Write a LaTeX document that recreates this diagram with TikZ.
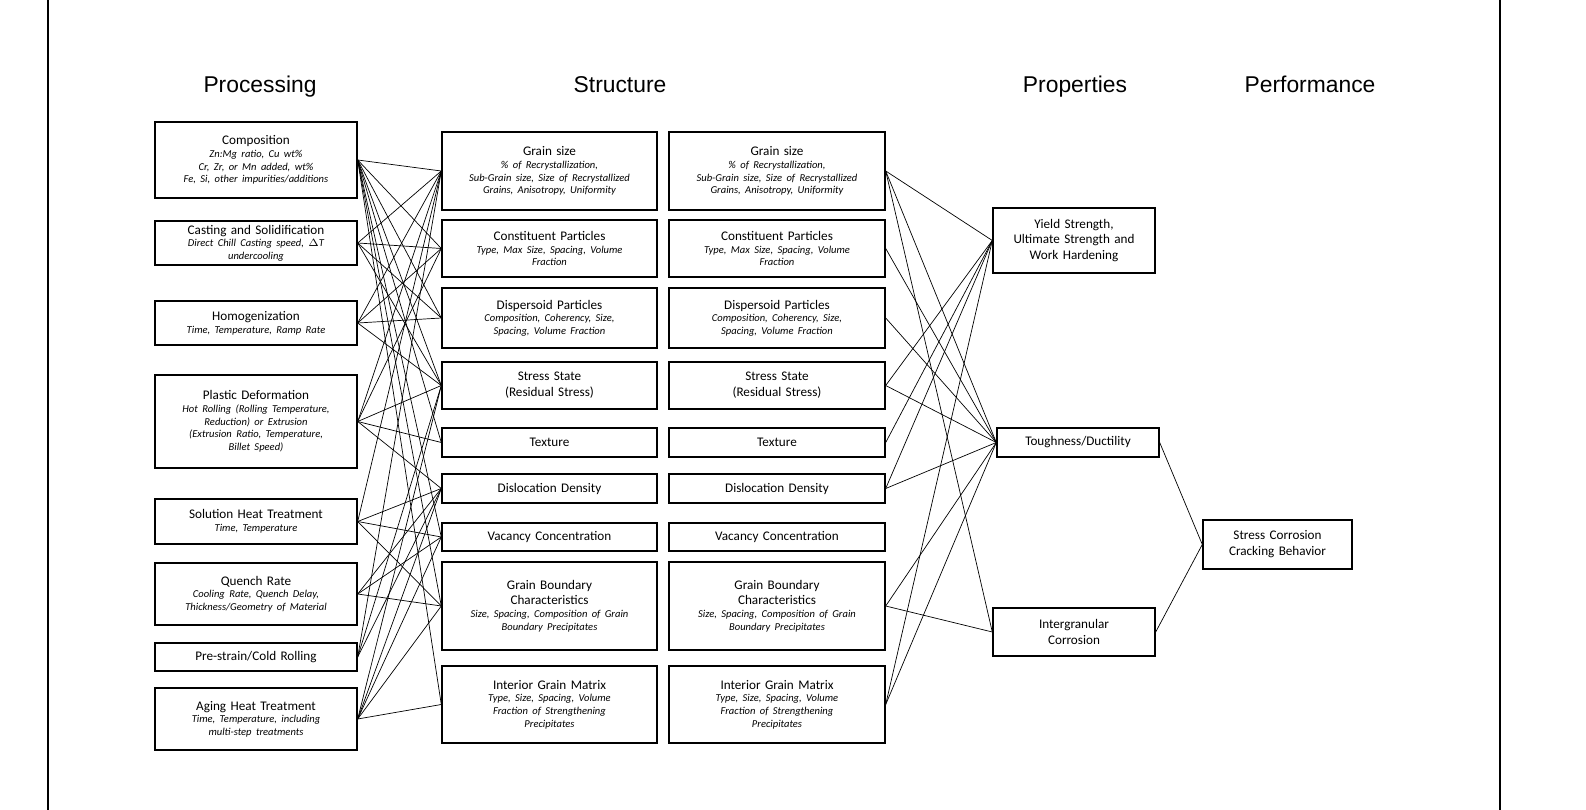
\documentclass[tikz,border=0pt]{standalone}
\usepackage{fontspec}
\setmainfont{Carlito}
\newfontfamily\headfont{Liberation Sans}
\usetikzlibrary{positioning}
\tikzset{
  box/.style={draw,thick,align=center,inner sep=1pt,font=\fontsize{7.5}{9}\selectfont},
  head/.style={font=\headfont\fontsize{13}{15}\selectfont,anchor=base},
  link/.style={thin}
}
% box from pixel corners: name, x1, y1, x2, y2, text
\newcommand{\pbox}[6]{%
  \node[box,minimum width={(#4-#2)*0.02cm},minimum height={(#5-#3)*0.02cm},text width={(#4-#2)*0.02cm-2pt}]
    (#1) at ({(#2+#4)/2},{(#3+#5)/2}) {#6};}
\newcommand{\sub}[1]{\par{\fontsize{6}{7.2}\selectfont\itshape\hyphenpenalty=10000 #1\par}}
\begin{document}
\begin{tikzpicture}[x=0.02cm,y=-0.02cm]
  \useasboundingbox (0,0) rectangle (1586,810);
  \draw[thick] (48,0) -- (48,810);
  \draw[thick] (1500,0) -- (1500,810);

  % headings
  \node[head] at (260,93) {Processing};
  \node[head] at (620,93) {Structure};
  \node[head] at (1075,93) {Properties};
  \node[head] at (1310,93) {Performance};

  % processing
  \pbox{comp}{155}{122}{357}{198}{Composition\sub{Zn:Mg ratio, Cu wt\%\\Cr, Zr, or Mn added, wt\%\\Fe, Si, other impurities/additions}}
  \pbox{cast}{155}{221}{357}{265}{Casting and Solidification\sub{Direct Chill Casting speed, $\Delta$T\\undercooling}}
  \pbox{homo}{155}{301}{357}{345}{Homogenization\sub{Time, Temperature, Ramp Rate}}
  \pbox{plas}{155}{375}{357}{468}{Plastic Deformation\sub{Hot Rolling (Rolling Temperature,\\Reduction) or Extrusion\\(Extrusion Ratio, Temperature,\\Billet Speed)}}
  \pbox{sht}{155}{499}{357}{544}{Solution Heat Treatment\sub{Time, Temperature}}
  \pbox{quen}{155}{563}{357}{625}{Quench Rate\sub{Cooling Rate, Quench Delay,\\Thickness/Geometry of Material}}
  \pbox{pres}{155}{643}{357}{671}{Pre-strain/Cold Rolling}
  \pbox{agin}{155}{688}{357}{750}{Aging Heat Treatment\sub{Time, Temperature, including\\multi-step treatments}}

  % structure, two copies
  \foreach \c/\xa/\xb in {a/442/657,b/669/885}{
    \pbox{grain\c}{\xa}{132}{\xb}{210}{Grain size\sub{\% of Recrystallization,\\Sub-Grain size, Size of Recrystallized\\Grains, Anisotropy, Uniformity}}
    \pbox{cons\c}{\xa}{220}{\xb}{277}{Constituent Particles\sub{Type, Max Size, Spacing, Volume\\Fraction}}
    \pbox{disp\c}{\xa}{288}{\xb}{348}{Dispersoid Particles\sub{Composition, Coherency, Size,\\Spacing, Volume Fraction}}
    \pbox{stre\c}{\xa}{362}{\xb}{409}{Stress State\\(Residual Stress)}
    \pbox{text\c}{\xa}{428}{\xb}{457}{Texture}
    \pbox{disl\c}{\xa}{474}{\xb}{503}{Dislocation Density}
    \pbox{vaca\c}{\xa}{523}{\xb}{551}{Vacancy Concentration}
    \pbox{gbc\c}{\xa}{562}{\xb}{650}{Grain Boundary\\Characteristics\sub{Size, Spacing, Composition of Grain\\Boundary Precipitates}}
    \pbox{intm\c}{\xa}{666}{\xb}{743}{Interior Grain Matrix\sub{Type, Size, Spacing, Volume\\Fraction of Strengthening\\Precipitates}}
  }

  % properties and performance
  \pbox{yield}{993}{208}{1155}{273}{Yield Strength,\\Ultimate Strength and\\Work Hardening}
  \pbox{tough}{997}{428}{1159}{457}{Toughness/Ductility}
  \pbox{igc}{993}{608}{1155}{656}{Intergranular\\Corrosion}
  \pbox{scc}{1203}{520}{1352}{569}{Stress Corrosion\\Cracking Behavior}

  % processing -> structure
  \foreach \s/\ts in {comp/{graina,consa,dispa,strea,texta,gbca,intma,vacaa},
                      cast/{graina,consa,dispa,strea},
                      homo/{graina,consa,dispa,strea},
                      plas/{graina,consa,strea,texta,disla},
                      sht/{graina,disla,vacaa,gbca},
                      quen/{disla,vacaa,gbca},
                      pres/{strea,disla,graina},
                      agin/{strea,disla,vacaa,gbca,intma}}{
    \foreach \t in \ts {\draw[link] (\s.east) -- (\t.west);}
  }

  % structure -> properties
  \foreach \s/\ts in {grainb/{yield,tough,igc},
                      consb/{tough},
                      dispb/{tough},
                      streb/{yield,tough},
                      textb/{yield},
                      dislb/{yield,tough},
                      gbcb/{tough,igc},
                      intmb/{yield,tough}}{
    \foreach \t in \ts {\draw[link] (\s.east) -- (\t.west);}
  }

  % properties -> performance
  \draw[link] (tough.east) -- (scc.west);
  \draw[link] (igc.east) -- (scc.west);
\end{tikzpicture}
\end{document}
